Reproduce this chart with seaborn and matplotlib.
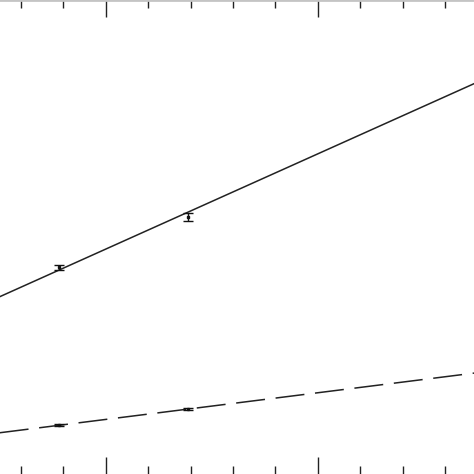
import matplotlib
matplotlib.use("Agg")
import matplotlib.pyplot as plt
from matplotlib.ticker import MultipleLocator
import numpy as np
import seaborn as sns

# ── data (arbitrary y units) ─────────────────────────────────────────────────
x_points = [3.91, 6.94]
upper_y = [4.36, 5.43]
upper_err = [0.055, 0.085]
lower_y = [1.03, 1.37]
lower_err = [0.02, 0.02]

fit_x = [2.5, 13.7]
upper_fit = [3.74, 8.24]
lower_fit = [0.87, 2.13]

sns.set_style("ticks")

fig = plt.figure(figsize=(4.74, 4.74), dpi=100)
ax = fig.add_axes([0, 0, 1, 1])

sns.lineplot(x=fit_x, y=upper_fit, color="#222222", lw=1.1, ax=ax)
sns.lineplot(x=fit_x, y=lower_fit, color="#222222", lw=1.1, ax=ax,
             dashes=False).lines[-1].set_dashes((19, 7))

for ys, es in [(upper_y, upper_err), (lower_y, lower_err)]:
    ax.errorbar(x_points, ys, yerr=es, fmt="s", ms=1.8, color="#111111",
                ecolor="#111111", elinewidth=1, capsize=3.5, capthick=1)

ax.set_xlim(2.507, 13.686)
ax.set_ylim(0, 10)
ax.xaxis.set_major_locator(MultipleLocator(5))
ax.xaxis.set_minor_locator(MultipleLocator(1))
ax.tick_params(axis="x", which="both", direction="in", top=True, bottom=True,
               labelbottom=False, labeltop=False, color="#222222")
ax.tick_params(axis="x", which="major", length=12.5, width=1)
ax.tick_params(axis="x", which="minor", length=6, width=1)
ax.tick_params(axis="y", which="both", left=False, right=False, labelleft=False)

for side in ["left", "right", "bottom"]:
    ax.spines[side].set_visible(False)
ax.spines["top"].set_color("#c4c4c4")
ax.spines["top"].set_linewidth(2)

fig.savefig("out.png", dpi=100)
